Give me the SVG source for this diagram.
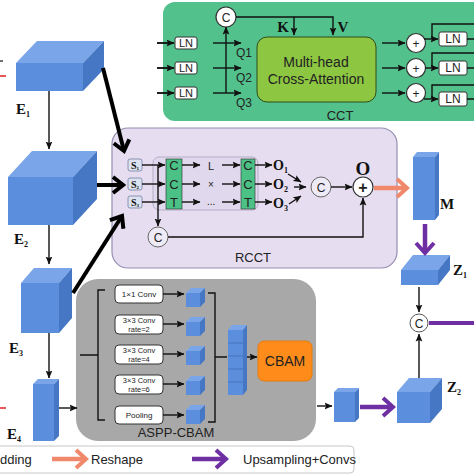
<svg xmlns="http://www.w3.org/2000/svg" width="474" height="474" viewBox="0 0 474 474">
<style>
.sans{font-family:"Liberation Sans",Arial,sans-serif;fill:#222}
.ser{font-family:"Liberation Serif","Times New Roman",serif;font-weight:bold;fill:#111}
.ln{fill:#fff;stroke:#333;stroke-width:1;}
.thin{fill:none;stroke:#111;stroke-width:1.4}
.fr{fill:#5B8EDC}.tp{fill:#7AA5E9}.sd{fill:#4677C4}
.thick{fill:none;stroke:#000;stroke-width:4}
.sal{fill:none;stroke:#F0896B;stroke-width:4.5}
.pur{fill:none;stroke:#6E2FA3;stroke-width:4.5}
.cir{fill:#fff;stroke:#333;stroke-width:1.2}
.ccol{fill:#4CC185;stroke:#2b2b2b;stroke-width:0.6}
.box{fill:#fff;stroke:#333;stroke-width:1}
</style>
<defs>
<marker id="a" markerUnits="userSpaceOnUse" markerWidth="8" markerHeight="8" viewBox="0 0 8 8" refX="7.5" refY="4" orient="auto"><path d="M0,0.6 L8,4 L0,7.4 L1.6,4 Z" fill="#111"/></marker>
<marker id="tb" markerUnits="userSpaceOnUse" markerWidth="16" markerHeight="20" viewBox="0 0 16 20" refX="13" refY="10" orient="auto"><path d="M3,2 L13,10 L3,18" fill="none" stroke="#000" stroke-width="4"/></marker>
<marker id="ts" markerUnits="userSpaceOnUse" markerWidth="16" markerHeight="22" viewBox="0 0 16 22" refX="13" refY="11" orient="auto"><path d="M3,2 L13,11 L3,20" fill="none" stroke="#F0896B" stroke-width="4"/></marker>
<marker id="tp" markerUnits="userSpaceOnUse" markerWidth="16" markerHeight="22" viewBox="0 0 16 22" refX="13" refY="11" orient="auto"><path d="M3,2 L13,11 L3,20" fill="none" stroke="#6E2FA3" stroke-width="4"/></marker>
</defs>
<rect width="474" height="474" fill="#fff"/>

<!-- cropped fragments on left edge -->
<line x1="0" y1="61" x2="3" y2="61" stroke="#111" stroke-width="1.2"/>
<line x1="0" y1="76" x2="6" y2="76" stroke="#e02020" stroke-width="1.5"/>
<line x1="0" y1="408" x2="6" y2="408" stroke="#e02020" stroke-width="1.5"/>

<!-- CCT module -->
<g id="cct">
<rect x="163" y="2" width="330" height="119" rx="12" fill="#52C18C"/>
<rect x="175" y="37" width="22" height="12" rx="2" class="ln"/>
<rect x="175" y="62" width="22" height="12" rx="2" class="ln"/>
<rect x="175" y="87" width="22" height="12" rx="2" class="ln"/>
<text x="186" y="47" text-anchor="middle" class="sans" font-size="11">LN</text>
<text x="186" y="72" text-anchor="middle" class="sans" font-size="11">LN</text>
<text x="186" y="97" text-anchor="middle" class="sans" font-size="11">LN</text>
<circle cx="226" cy="17" r="10" class="cir"/>
<text x="226" y="21.5" text-anchor="middle" class="sans" font-size="12">C</text>
<rect x="257" y="37" width="119" height="65" rx="10" fill="#8DC641" stroke="#2f4d1a" stroke-width="1"/>
<text x="316" y="67" text-anchor="middle" class="sans" font-size="14">Multi-head</text>
<text x="316" y="84" text-anchor="middle" class="sans" font-size="14">Cross-Attention</text>
<text x="283" y="32" text-anchor="middle" class="ser" font-size="15">K</text>
<text x="343" y="32" text-anchor="middle" class="ser" font-size="15">V</text>
<text x="236" y="57" class="sans" font-size="12">Q1</text>
<text x="236" y="82" class="sans" font-size="12">Q2</text>
<text x="236" y="107" class="sans" font-size="12">Q3</text>
<circle cx="416" cy="43" r="9.5" class="cir"/>
<circle cx="416" cy="68" r="9.5" class="cir"/>
<circle cx="416" cy="93" r="9.5" class="cir"/>
<text x="416" y="47.5" text-anchor="middle" class="sans" font-size="12">+</text>
<text x="416" y="72.5" text-anchor="middle" class="sans" font-size="12">+</text>
<text x="416" y="97.5" text-anchor="middle" class="sans" font-size="12">+</text>
<rect x="439" y="32" width="28" height="14" rx="2" class="ln"/>
<rect x="439" y="61" width="28" height="14" rx="2" class="ln"/>
<rect x="439" y="92" width="28" height="14" rx="2" class="ln"/>
<text x="453" y="43" text-anchor="middle" class="sans" font-size="12">LN</text>
<text x="453" y="72" text-anchor="middle" class="sans" font-size="12">LN</text>
<text x="453" y="103" text-anchor="middle" class="sans" font-size="12">LN</text>
<text x="340" y="120" text-anchor="middle" class="sans" font-size="13">CCT</text>
</g>

<!-- RCCT module -->
<g id="rcct">
<rect x="112" y="128" width="285" height="140" rx="16" fill="#E6DEF0" stroke="#958EB2" stroke-width="1.2"/>
<rect x="153" y="157" width="105" height="53" rx="6" fill="#E0D8EC" stroke="#b4aec6" stroke-width="1"/>
<rect x="128" y="159" width="14" height="12" rx="2" fill="#DCE2F0" stroke="#7f88a8" stroke-width="0.9"/>
<rect x="128" y="178" width="14" height="12" rx="2" fill="#DCE2F0" stroke="#7f88a8" stroke-width="0.9"/>
<rect x="128" y="196" width="14" height="12" rx="2" fill="#DCE2F0" stroke="#7f88a8" stroke-width="0.9"/>
<text x="131" y="168.5" class="ser" font-size="10">S<tspan font-size="5" dy="1.5">1</tspan></text>
<text x="131" y="187.5" class="ser" font-size="10">S<tspan font-size="5" dy="1.5">2</tspan></text>
<text x="131" y="205.5" class="ser" font-size="10">S<tspan font-size="5" dy="1.5">3</tspan></text>
<rect x="166" y="159" width="16" height="50" class="ccol"/>
<rect x="241" y="159" width="14" height="50" class="ccol"/>
<text x="174" y="170" text-anchor="middle" class="sans" font-size="13">C</text>
<text x="174" y="189" text-anchor="middle" class="sans" font-size="13">C</text>
<text x="174" y="207" text-anchor="middle" class="sans" font-size="13">T</text>
<text x="248" y="170" text-anchor="middle" class="sans" font-size="13">C</text>
<text x="248" y="189" text-anchor="middle" class="sans" font-size="13">C</text>
<text x="248" y="207" text-anchor="middle" class="sans" font-size="13">T</text>
<text x="208" y="170" class="sans" font-size="11">L</text>
<text x="208" y="188" class="sans" font-size="10">×</text>
<text x="207" y="205" class="sans" font-size="10">...</text>
<text x="273" y="170" class="ser" font-size="14">O<tspan font-size="8" dy="3">1</tspan></text>
<text x="273" y="189" class="ser" font-size="14">O<tspan font-size="8" dy="3">2</tspan></text>
<text x="273" y="208" class="ser" font-size="14">O<tspan font-size="8" dy="3">3</tspan></text>
<circle cx="321" cy="187" r="10" fill="#EEEAF6" stroke="#666" stroke-width="1"/>
<text x="321" y="191.5" text-anchor="middle" class="sans" font-size="12">C</text>
<circle cx="363" cy="187" r="10" class="cir"/>
<text x="363" y="192.5" text-anchor="middle" class="sans" font-size="16" font-weight="bold">+</text>
<text x="363" y="175" text-anchor="middle" class="ser" font-size="19">O</text>
<circle cx="158" cy="237" r="10" fill="#EEEAF6" stroke="#666" stroke-width="1"/>
<text x="158" y="241.5" text-anchor="middle" class="sans" font-size="12">C</text>
<text x="253" y="262" text-anchor="middle" class="sans" font-size="13">RCCT</text>
</g>

<!-- ASPP-CBAM module -->
<g id="aspp">
<rect x="76" y="279" width="240" height="162" rx="22" fill="#A8A8A8"/>
<rect x="115" y="285" width="48" height="18" rx="4" class="box"/>
<rect x="115" y="315" width="48" height="19" rx="4" class="box"/>
<rect x="115" y="345" width="48" height="19" rx="4" class="box"/>
<rect x="115" y="375" width="48" height="19" rx="4" class="box"/>
<rect x="115" y="406" width="48" height="18" rx="4" class="box"/>
<text x="139" y="297" text-anchor="middle" class="sans" font-size="8">1×1 Conv</text>
<text x="139" y="323" text-anchor="middle" class="sans" font-size="7.5">3×3 Conv</text>
<text x="139" y="332" text-anchor="middle" class="sans" font-size="7.5">rate=2</text>
<text x="139" y="353" text-anchor="middle" class="sans" font-size="7.5">3×3 Conv</text>
<text x="139" y="362" text-anchor="middle" class="sans" font-size="7.5">rate=4</text>
<text x="139" y="383" text-anchor="middle" class="sans" font-size="7.5">3×3 Conv</text>
<text x="139" y="392" text-anchor="middle" class="sans" font-size="7.5">rate=6</text>
<text x="139" y="418" text-anchor="middle" class="sans" font-size="8">Pooling</text>
<g id="c1"><polygon class="tp" points="186,293 191,288 205,288 200,293"/><polygon class="sd" points="200,293 205,288 205,302 200,307"/><rect class="fr" x="186" y="293" width="14" height="14"/></g>
<g id="c2"><polygon class="tp" points="186,322 191,317 205,317 200,322"/><polygon class="sd" points="200,322 205,317 205,331 200,336"/><rect class="fr" x="186" y="322" width="14" height="14"/></g>
<g id="c3"><polygon class="tp" points="186,351 191,346 205,346 200,351"/><polygon class="sd" points="200,351 205,346 205,360 200,365"/><rect class="fr" x="186" y="351" width="14" height="14"/></g>
<g id="c4"><polygon class="tp" points="186,381 191,376 205,376 200,381"/><polygon class="sd" points="200,381 205,376 205,390 200,395"/><rect class="fr" x="186" y="381" width="14" height="14"/></g>
<g id="c5"><polygon class="tp" points="186,410 191,405 205,405 200,410"/><polygon class="sd" points="200,410 205,405 205,419 200,424"/><rect class="fr" x="186" y="410" width="14" height="14"/></g>
<g id="stack">
<polygon class="tp" points="228,330 232,325 247,325 243,330"/>
<polygon class="sd" points="243,330 247,325 247,390 243,395"/>
<rect class="fr" x="228" y="330" width="15" height="65"/>
<path d="M228,343H243M228,356H243M228,369H243M228,382H243" stroke="#3f6fb8" stroke-width="0.8"/>
</g>
<rect x="258" y="341" width="54" height="40" rx="6" fill="#FF8C1A" stroke="#E57A10" stroke-width="1"/>
<text x="285" y="366" text-anchor="middle" class="sans" font-size="14">CBAM</text>
<text x="176" y="437" text-anchor="middle" class="sans" font-size="13">ASPP-CBAM</text>
</g>

<!-- feature blocks -->
<g id="E1"><polygon class="tp" points="16,63 37,41 104,41 83,63"/><polygon class="sd" points="83,63 104,41 104,69 83,91"/><rect class="fr" x="16" y="63" width="67" height="28"/>
<text x="16" y="114" class="ser" font-size="15">E<tspan font-size="8" dy="3">1</tspan></text></g>
<g id="E2"><polygon class="tp" points="8,177 32,151 97,151 73,177"/><polygon class="sd" points="73,177 97,151 97,199 73,225"/><rect class="fr" x="8" y="177" width="65" height="48"/>
<text x="14" y="244" class="ser" font-size="15">E<tspan font-size="8" dy="3">2</tspan></text></g>
<g id="E3"><polygon class="tp" points="21,283 34,268 72,268 59,283"/><polygon class="sd" points="59,283 72,268 72,318 59,333"/><rect class="fr" x="21" y="283" width="38" height="50"/>
<text x="9" y="353" class="ser" font-size="15">E<tspan font-size="8" dy="3">3</tspan></text></g>
<g id="E4"><polygon class="tp" points="33,384 38,379 59,379 54,384"/><polygon class="sd" points="54,384 59,379 59,436 54,441"/><rect class="fr" x="33" y="384" width="21" height="57"/>
<text x="7" y="439" class="ser" font-size="15">E<tspan font-size="8" dy="3">4</tspan></text></g>
<g id="M"><polygon class="tp" points="413,157 417,152 439,152 435,157"/><polygon class="sd" points="435,157 439,152 439,215 435,220"/><rect class="fr" x="413" y="157" width="22" height="63"/>
<text x="440" y="209" class="ser" font-size="15">M</text></g>
<g id="Z1"><polygon class="tp" points="401,270 413,255 450,255 438,270"/><polygon class="sd" points="438,270 450,255 450,270 438,285"/><rect class="fr" x="401" y="270" width="37" height="15"/>
<text x="453" y="275" class="ser" font-size="15">Z<tspan font-size="8" dy="3">1</tspan></text></g>
<g id="F"><polygon class="tp" points="334,392 338,388 359,388 355,392"/><polygon class="sd" points="355,392 359,388 359,418 355,422"/><rect class="fr" x="334" y="392" width="21" height="30"/></g>
<g id="Z2"><polygon class="tp" points="397,392 409,378 442,378 430,392"/><polygon class="sd" points="430,392 442,378 442,409 430,423"/><rect class="fr" x="397" y="392" width="33" height="31"/>
<text x="447" y="392" class="ser" font-size="15">Z<tspan font-size="8" dy="3">2</tspan></text></g>
<g id="Cz"><circle cx="419" cy="323" r="9" fill="#fff" stroke="#555" stroke-width="1"/>
<text x="419" y="327.5" text-anchor="middle" class="sans" font-size="12">C</text></g>

<!-- legend -->
<g id="legend">
<rect x="-5" y="446" width="359" height="27" rx="4" fill="#fff" stroke="#c8c8c8" stroke-width="1"/>
<text x="0" y="464" class="sans" font-size="13">dding</text>
<text x="91" y="464" class="sans" font-size="13">Reshape</text>
<text x="243" y="464" class="sans" font-size="13">Upsampling+Convs</text>
<line x1="52" y1="459" x2="86" y2="459" class="sal" marker-end="url(#ts)"/>
<line x1="192" y1="459" x2="226" y2="459" class="pur" marker-end="url(#tp)"/>
</g>

<!-- connectors -->
<g id="connectors">
<!-- CCT -->
<path class="thin" d="M157,43H174M157,68H174M157,93H174" />
<line x1="157" y1="43" x2="174" y2="43" class="thin" marker-end="url(#a)"/>
<line x1="157" y1="68" x2="174" y2="68" class="thin" marker-end="url(#a)"/>
<line x1="157" y1="93" x2="174" y2="93" class="thin" marker-end="url(#a)"/>
<line x1="213" y1="43" x2="241" y2="43" class="thin" marker-end="url(#a)"/>
<line x1="213" y1="68" x2="241" y2="68" class="thin" marker-end="url(#a)"/>
<line x1="213" y1="93" x2="241" y2="93" class="thin" marker-end="url(#a)"/>
<line x1="226" y1="93" x2="226" y2="27" class="thin" marker-end="url(#a)"/>
<path class="thin" d="M236,17H333V35" marker-end="url(#a)"/>
<line x1="294" y1="17" x2="294" y2="35" class="thin" marker-end="url(#a)"/>
<line x1="382" y1="43" x2="405" y2="43" class="thin" marker-end="url(#a)"/>
<line x1="382" y1="68" x2="405" y2="68" class="thin" marker-end="url(#a)"/>
<line x1="382" y1="93" x2="405" y2="93" class="thin" marker-end="url(#a)"/>
<line x1="424" y1="39" x2="438" y2="39" class="thin" marker-end="url(#a)"/>
<line x1="425" y1="68" x2="438" y2="68" class="thin" marker-end="url(#a)"/>
<line x1="424" y1="99" x2="438" y2="99" class="thin" marker-end="url(#a)"/>
<path class="thin" d="M432,39V24H474M432,68V53H474M432,99V85H474M467,39H474M467,68H474M467,99H474"/>
<!-- RCCT -->
<line x1="142" y1="165" x2="165" y2="165" class="thin" marker-end="url(#a)"/>
<line x1="142" y1="184" x2="165" y2="184" class="thin" marker-end="url(#a)"/>
<line x1="142" y1="202" x2="165" y2="202" class="thin" marker-end="url(#a)"/>
<line x1="158" y1="165" x2="158" y2="226" class="thin" marker-end="url(#a)"/>
<line x1="182" y1="165" x2="200" y2="165" class="thin" marker-end="url(#a)"/>
<line x1="182" y1="184" x2="200" y2="184" class="thin" marker-end="url(#a)"/>
<line x1="182" y1="202" x2="200" y2="202" class="thin" marker-end="url(#a)"/>
<line x1="222" y1="165" x2="240" y2="165" class="thin" marker-end="url(#a)"/>
<line x1="222" y1="184" x2="240" y2="184" class="thin" marker-end="url(#a)"/>
<line x1="222" y1="202" x2="240" y2="202" class="thin" marker-end="url(#a)"/>
<line x1="255" y1="165" x2="272" y2="165" class="thin" marker-end="url(#a)"/>
<line x1="255" y1="184" x2="272" y2="184" class="thin" marker-end="url(#a)"/>
<line x1="255" y1="202" x2="272" y2="202" class="thin" marker-end="url(#a)"/>
<line x1="288" y1="174" x2="301" y2="182" class="thin" marker-end="url(#a)"/>
<line x1="294" y1="187" x2="306" y2="187" class="thin" marker-end="url(#a)"/>
<line x1="289" y1="204" x2="301" y2="196" class="thin" marker-end="url(#a)"/>
<line x1="331" y1="187" x2="352" y2="187" class="thin" marker-end="url(#a)"/>
<path class="thin" d="M168,237H363V198" marker-end="url(#a)"/>
<!-- thick inputs -->
<line x1="103" y1="68" x2="124" y2="151" class="thick" marker-end="url(#tb)"/>
<line x1="97" y1="185" x2="123" y2="185" class="thick" marker-end="url(#tb)"/>
<line x1="73" y1="293" x2="122" y2="216" class="thick" marker-end="url(#tb)"/>
<!-- encoder chain -->
<line x1="49" y1="91" x2="49" y2="149" class="thin" marker-end="url(#a)"/>
<line x1="49" y1="225" x2="49" y2="264" class="thin" marker-end="url(#a)"/>
<line x1="49" y1="333" x2="49" y2="378" class="thin" marker-end="url(#a)"/>
<line x1="59" y1="408" x2="77" y2="408" class="thin" marker-end="url(#a)"/>
<!-- ASPP -->
<path class="thin" d="M80,355H98M105,290H98V420H105"/>
<line x1="163" y1="294" x2="184" y2="294" class="thin" marker-end="url(#a)"/>
<line x1="163" y1="324" x2="184" y2="324" class="thin" marker-end="url(#a)"/>
<line x1="163" y1="354" x2="184" y2="354" class="thin" marker-end="url(#a)"/>
<line x1="163" y1="384" x2="184" y2="384" class="thin" marker-end="url(#a)"/>
<line x1="163" y1="415" x2="184" y2="415" class="thin" marker-end="url(#a)"/>
<path class="thin" d="M208,293H215V422H208M215,357H227"/>
<line x1="247" y1="357" x2="257" y2="357" class="thin" marker-end="url(#a)"/>
<line x1="317" y1="406" x2="332" y2="406" class="thin" marker-end="url(#a)"/>
<!-- decoder -->
<line x1="374" y1="188" x2="407" y2="188" class="sal" marker-end="url(#ts)"/>
<line x1="425" y1="224" x2="425" y2="253" class="pur" marker-end="url(#tp)"/>
<line x1="360" y1="407" x2="393" y2="407" class="pur" marker-end="url(#tp)"/>
<line x1="419" y1="287" x2="419" y2="312" class="thin" marker-end="url(#a)"/>
<line x1="419" y1="378" x2="419" y2="334" class="thin" marker-end="url(#a)"/>
<line x1="429" y1="323" x2="474" y2="323" stroke="#6E2FA3" stroke-width="4"/>
</g>
</svg>
